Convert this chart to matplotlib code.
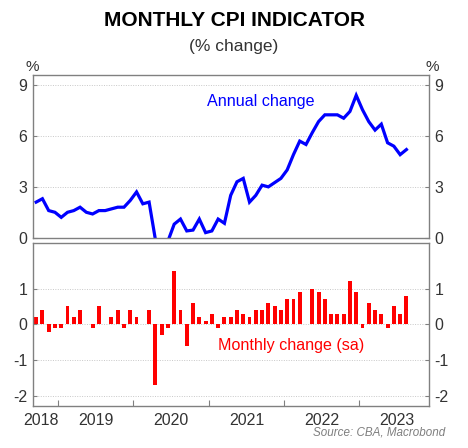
import numpy as np
import pandas as pd
import matplotlib
matplotlib.use("Agg")
import matplotlib.pyplot as plt

plt.rcParams["font.family"] = ["Liberation Sans", "DejaVu Sans"]

# monthly data, Sep 2018 - Aug 2023
meses = pd.date_range("2018-09-01", periods=60, freq="MS")

anual = [2.1, 2.3, 1.6, 1.5, 1.2, 1.5, 1.6, 1.8, 1.5, 1.4, 1.6, 1.6,
         1.7, 1.8, 1.8, 2.2, 2.7, 2.0, 2.1, -0.1, -0.3, -0.2, 0.8, 1.1,
         0.4, 0.45, 1.1, 0.3, 0.4, 1.1, 0.85, 2.5, 3.3, 3.5, 2.1, 2.5,
         3.1, 3.0, 3.25, 3.5, 4.0, 4.9, 5.7, 5.5, 6.2, 6.85, 7.25, 7.25,
         7.25, 7.05, 7.45, 8.4, 7.55, 6.85, 6.35, 6.7, 5.6, 5.4, 4.9, 5.2]

mensual = [0.2, 0.4, -0.2, -0.1, -0.1, 0.5, 0.2, 0.4, 0.0, -0.1, 0.5, 0.0,
           0.2, 0.4, -0.1, 0.4, 0.2, 0.0, 0.4, -1.7, -0.3, -0.1, 1.5, 0.4,
           -0.6, 0.6, 0.2, 0.1, 0.3, -0.1, 0.2, 0.2, 0.4, 0.3, 0.2, 0.4,
           0.4, 0.6, 0.5, 0.4, 0.7, 0.7, 0.9, 0.0, 1.0, 0.9, 0.7, 0.3,
           0.3, 0.3, 1.2, 0.9, -0.1, 0.6, 0.4, 0.3, -0.1, 0.5, 0.3, 0.8]

años = [2018, 2019, 2020, 2021, 2022, 2023]

x = np.arange(len(meses))
# year boundaries (between Dec and Jan) and label positions (mid-year)
inicio_año = [i - 0.5 for i, m in enumerate(meses) if m.month == 1]
pos_etiquetas = [0.7] + [b + 6 for b in inicio_año]

gris = "#808080"
texto = "#333333"

fig = plt.figure(figsize=(4.68, 4.48), dpi=100)
ax1 = fig.add_axes([0.0705, 0.4694, 0.8462, 0.3632])
ax2 = fig.add_axes([0.0705, 0.0944, 0.8462, 0.3632])

ax1.plot(x, anual, color="#0000FF", lw=2.3, solid_joinstyle="miter")
ax1.set_ylim(0, 9.6)
ax1.set_yticks([0, 3, 6, 9])

ax2.bar(x, mensual, width=0.62, color="#FF0000")
ax2.set_ylim(-2.27, 2.27)
ax2.set_yticks([-2, -1, 0, 1])
ax2.set_yticklabels(["-2", "-1", "0", "1"])

for ax in (ax1, ax2):
    ax.set_xlim(-0.5, 62.6)
    for s in ax.spines.values():
        s.set_color(gris)
        s.set_linewidth(1.0)
    ax.grid(axis="y", color="#c8c8c8", ls=(0, (1, 1.5)), lw=0.7)
    ax.set_axisbelow(True)
    ax.tick_params(axis="y", direction="in", length=3, color=gris,
                   labelsize=11.5, labelcolor=texto, left=True, right=True,
                   labelleft=True, labelright=True, pad=4)
    ax.set_xticks(inicio_año)
    ax.tick_params(axis="x", direction="in", length=4, color=gris,
                   labelbottom=False)

ax1.tick_params(axis="x", length=0)
ax2.set_xticks(pos_etiquetas, minor=True)
ax2.set_xticklabels([str(a) for a in años], minor=True)
ax2.tick_params(axis="x", which="minor", length=0, labelsize=11.5,
                labelcolor=texto, labelbottom=True, pad=5)

ax1.text(0.44, 0.836, "Annual change", transform=ax1.transAxes,
         color="#0000FF", fontsize=11.6, ha="left", va="center")
ax2.text(0.468, 0.373, "Monthly change (sa)", transform=ax2.transAxes,
         color="#FF0000", fontsize=11.6, ha="left", va="center")

fig.text(0.5, 0.955, "MONTHLY CPI INDICATOR", ha="center", va="center",
         fontsize=15, fontweight="bold", color="black")
fig.text(0.5, 0.897, "(% change)", ha="center", va="center",
         fontsize=12.5, color=texto)
fig.text(0.068, 0.851, "%", ha="center", va="center", fontsize=11, color=texto)
fig.text(0.923, 0.851, "%", ha="center", va="center", fontsize=11, color=texto)
fig.text(0.952, 0.034, "Source: CBA, Macrobond", ha="right", va="center",
         fontsize=8.4, style="italic", color="#7f7f7f")

fig.savefig("out.png", dpi=100)
